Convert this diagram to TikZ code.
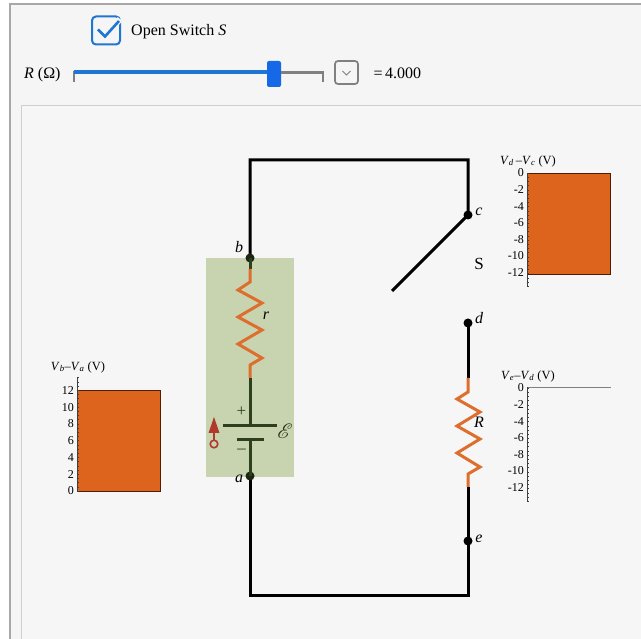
\documentclass[tikz,border=0pt]{standalone}
\usepackage{fontspec}
\usepackage{mathrsfs}
\setmainfont{Liberation Serif}
\definecolor{bgc}{HTML}{F5F5F5}
\definecolor{framec}{HTML}{A8A8A8}
\definecolor{panelc}{HTML}{CFCFCF}
\definecolor{bluec}{HTML}{1F76D2}
\definecolor{thumbc}{HTML}{1669E6}
\definecolor{grayc}{HTML}{808080}
\definecolor{greenbox}{HTML}{C8D4B0}
\definecolor{wireg}{HTML}{2D3F1E}
\definecolor{orw}{HTML}{DE6E2E}
\definecolor{barc}{HTML}{DC641C}
\definecolor{barl}{HTML}{4A1E08}
\definecolor{redc}{HTML}{B0392C}
\newcommand{\vv}[1]{\textit{V}\textsubscript{\textit{#1}}}
\tikzset{
  wire/.style={line width=3pt,black},
  gwire/.style={line width=3pt,wireg},
  res/.style={line width=3pt,orw,line join=miter},
  dot/.style={circle,fill=black,inner sep=0pt,minimum size=9pt},
  gdot/.style={circle,fill=wireg!60!black,inner sep=0pt,minimum size=9pt},
  lab/.style={font=\fontsize{16}{18}\selectfont\itshape,inner sep=0pt},
  txt/.style={font=\fontsize{16}{18}\selectfont,inner sep=0pt,anchor=west},
  tl/.style={font=\fontsize{12}{13}\selectfont,inner sep=0pt,anchor=east},
  ttl/.style={font=\fontsize{12.5}{13}\selectfont,inner sep=0pt},
  bar/.style={fill=barc,draw=barl,line width=0.9pt},
  axis/.style={line width=0.8pt,black!75},
}
\begin{document}
\begin{tikzpicture}[x=1pt,y=-1pt]
\useasboundingbox (0,0) rectangle (641,639);
% page and frame
\fill[white] (0,0) rectangle (641,639);
\fill[bgc] (10,4) rectangle (641,639);
\draw[framec,line width=1.2pt] (641,4) -- (10,4) -- (10,639);
\draw[panelc,line width=0.8pt,fill=black!3.5] (641,105) -- (21.5,105) -- (21.5,639) -- (641,639);
% controls
\node[draw=bluec,line width=2pt,rounded corners=4pt,minimum size=28pt,inner sep=0pt] (chk) at (106,30.5) {};
\draw[bgc,line width=6pt] (112,28.5) -- (120,19);
\draw[bluec,line width=2.6pt] (98,29.5) -- (105,36.5) -- (119,21);
\node[txt] (chkl) at (131,31.5) {Open Switch \textit{S}};
\node[txt] (rl) at (24,74.5) {\textit{R} (Ω)};
\coordinate (sa) at (73.5,72.5);
\coordinate (sb) at (323,72.5);
\node[fill=thumbc,rounded corners=2pt,minimum width=14pt,minimum height=26pt,inner sep=0pt] (th) at (274,74) {};
\draw[grayc,line width=2pt] (73.5,82) -- (73.5,71);
\draw[grayc,line width=3pt] (th.east |- sb) -- (sb);
\draw[grayc,line width=2pt] (323,71) -- (323,82);
\draw[bluec,line width=4pt] (sa) -- (th.west |- sa);
\node[draw=grayc,line width=1.7pt,rounded corners=3pt,minimum size=23pt,inner sep=0pt] (dd) at (346.5,72.5) {};
\draw[grayc,line width=1pt] (342.5,71) -- (346.5,75) -- (350.5,71);
\node[txt] (val) at (373.5,73.5) {=\kern2.5pt 4.000};
% circuit: black wires
\coordinate (tl) at (250,160);
\coordinate (tr) at (468,160);
\coordinate (bl) at (250,595);
\coordinate (br) at (468,595);
\coordinate (swend) at (392,291);
\node[dot] (c) at (468,215) {};
\node[dot] (d) at (468,323) {};
\node[dot] (e) at (468,541) {};
\draw[wire,line join=miter] (250,258) -- (tl) -- (tr) -- (c.center) -- (swend);
\draw[wire,line join=miter] (250,476) -- (bl) -- (br) -- (e.center);
\draw[wire] (d.center) -- (468,378);
\draw[wire] (468,487) -- (e.center);
\draw[res] (468,378) -- (468,392) -- (457,399) -- (480,412) -- (457,426) -- (480,439) -- (457,453) -- (480,467) -- (468,474) -- (468,487);
% battery box
\node[fill=greenbox,minimum width=88pt,minimum height=219pt,inner sep=0pt] (box) at (250,367.5) {};
\node[gdot] (b) at (250,258) {};
\node[gdot] (a) at (250,476) {};
\draw[gwire] (b.center) -- (250,269);
\draw[res] (250,269) -- (250,282) -- (238,290) -- (262,303) -- (238,317) -- (262,330) -- (238,344) -- (262,358) -- (250,365) -- (250,378);
\draw[gwire] (250,378) -- (250,426);
\draw[gwire] (223,426) -- (277,426);
\draw[gwire] (237,440) -- (264,440);
\draw[gwire] (250,440) -- (a.center);
% EMF arrow
\fill[redc] (214,417) -- (219.5,433) -- (208.5,433) -- cycle;
\draw[redc,line width=1.6pt] (214,433) -- (214,440);
\draw[redc,line width=1.6pt] (214,444) circle (3.8pt);
% labels
\node[lab] (lb) at (239,247.5) {b};
\node[lab] (la) at (239,478.5) {a};
\node[lab] (lc) at (479,211.5) {c};
\node[lab] (ld) at (479,318.5) {d};
\node[lab] (le) at (479,538.5) {e};
\node[lab,font=\fontsize{17}{18}\selectfont] (ls) at (479,264) {S};
\node[lab] (lr) at (266,315.5) {r};
\node[lab] (lR) at (479,422.5) {R};
\node[font=\fontsize{17}{18}\selectfont,text=wireg,inner sep=0pt] (pl) at (241.5,412) {+};
\node[font=\fontsize{17}{18}\selectfont,text=wireg,inner sep=0pt] (mi) at (241.5,451) {--};
\node[inner sep=0pt,text=wireg!80!black,font=\fontsize{20}{22}\selectfont] (em) at (285,431) {$\mathscr{E}$};
% left meter
\node[ttl] (t1) at (78,367) {\vv{b}--\vv{a} (V)};
\node[bar,minimum width=83pt,minimum height=100.5pt,inner sep=0pt,anchor=north west] (m1) at (77,390.5) {};
\draw[axis] (77,491) -- (77,378);
\foreach \v in {0,2,...,12}{
  \node[tl] at (74,{491-\v*8.39}) {\v};
}
\foreach \i in {0,...,27}{\draw[axis,line width=0.5pt] (77,{491-\i*4.195}) -- (78.8,{491-\i*4.195});}
% top right meter
\node[ttl] (t2) at (528,161) {\vv{d}\,--\vv{c} (V)};
\node[bar,minimum width=83pt,minimum height=101pt,inner sep=0pt,anchor=north west] (m2) at (527,172.8) {};
\draw[axis] (527,173) -- (527,287);
\foreach \v in {0,2,...,12}{
  \node[tl] at (524,{173+\v*8.3}) {\ifnum\v=0 0\else -\v\fi};
}
\foreach \i in {0,...,27}{\draw[axis,line width=0.5pt] (527,{173+\i*4.195}) -- (528.8,{173+\i*4.195});}
% bottom right meter
\node[ttl] (t3) at (528,376) {\vv{e}--\vv{d} (V)};
\coordinate (m3a) at (527,387.5);
\coordinate (m3b) at (610.5,387.5);
\draw[grayc,line width=1.4pt] (m3a) -- (m3b);
\draw[axis] (527,387) -- (527,502);
\foreach \v in {0,2,...,12}{
  \node[tl] at (524,{388+\v*8.3}) {\ifnum\v=0 0\else -\v\fi};
}
\foreach \i in {0,...,27}{\draw[axis,line width=0.5pt] (527,{388+\i*4.195}) -- (528.8,{388+\i*4.195});}
\end{tikzpicture}
\end{document}
